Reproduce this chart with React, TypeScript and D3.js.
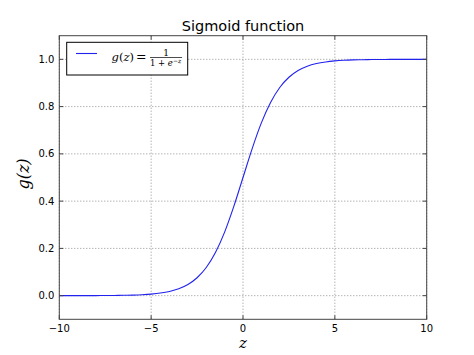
import React from "react";
import * as d3 from "d3";

// Values of g(z)
const zValues = [
  -10, -9.5, -9, -8.5, -8, -7.5, -7, -6.5, -6, -5.5, -5, -4.5, -4, -3.5, -3, -2.5, -2, -1.5, -1, -0.5,
  0, 0.5, 1, 1.5, 2, 2.5, 3, 3.5, 4, 4.5, 5, 5.5, 6, 6.5, 7, 7.5, 8, 8.5, 9, 9.5, 10,
];
const gValues = [
  0.0000454, 0.0000749, 0.000123, 0.000203, 0.000335, 0.000553, 0.000911, 0.001501, 0.002473, 0.00407,
  0.006693, 0.010987, 0.017986, 0.029312, 0.047426, 0.075858, 0.119203, 0.182426, 0.268941, 0.377541,
  0.5, 0.622459, 0.731059, 0.817574, 0.880797, 0.924142, 0.952574, 0.970688, 0.982014, 0.989013,
  0.993307, 0.99593, 0.997527, 0.998499, 0.999089, 0.999447, 0.999665, 0.999797, 0.999877, 0.999925,
  0.999955,
];
const xTicks = [-10, -5, 0, 5, 10];
const yTicks = [0.0, 0.2, 0.4, 0.6, 0.8, 1.0];
const titleText = "Sigmoid function";

export default function App() {
  const W = 474, H = 355;
  const L = 59.3, R = 426.7, T = 35.7, B = 319.3;
  const x = d3.scaleLinear().domain([-10, 10]).range([L, R]);
  const y = d3.scaleLinear().domain([-0.1, 1.1]).range([B, T]);
  const pts = zValues.map((z, i) => [z, gValues[i]] as [number, number]);
  const line = d3
    .line<[number, number]>()
    .x((d) => x(d[0]))
    .y((d) => y(d[1]))
    .curve(d3.curveMonotoneX);
  const tickFont = "DejaVu Sans, sans-serif";
  const serif = "DejaVu Serif, serif";
  const gridColor = "#777";
  const frame = "#444";
  return (
    <svg
      width={W}
      height={H}
      style={{ position: "absolute", left: 0, top: 0, background: "#fff" }}
    >
      {/* grid */}
      {xTicks.map((t) => (
        <line
          key={"gx" + t}
          x1={x(t)}
          x2={x(t)}
          y1={T}
          y2={B}
          stroke={gridColor}
          strokeWidth={0.8}
          strokeDasharray="1,2"
        />
      ))}
      {yTicks.map((t) => (
        <line
          key={"gy" + t}
          x1={L}
          x2={R}
          y1={y(t)}
          y2={y(t)}
          stroke={gridColor}
          strokeWidth={0.8}
          strokeDasharray="1,2"
        />
      ))}
      {/* curve */}
      <path d={line(pts) || ""} fill="none" stroke="#2222ee" strokeWidth={1.1} />
      {/* frame */}
      <rect x={L} y={T} width={R - L} height={B - T} fill="none" stroke={frame} strokeWidth={1} />
      {/* inward ticks */}
      {xTicks.map((t) => (
        <g key={"tx" + t}>
          <line x1={x(t)} x2={x(t)} y1={B} y2={B - 4} stroke={frame} />
          <line x1={x(t)} x2={x(t)} y1={T} y2={T + 4} stroke={frame} />
          <text
            x={x(t)}
            y={B + 12.5}
            textAnchor="middle"
            fontFamily={tickFont}
            fontSize={10}
            fill="#000"
          >
            {t < 0 ? "\u2212" + Math.abs(t) : String(t)}
          </text>
        </g>
      ))}
      {yTicks.map((t) => (
        <g key={"ty" + t}>
          <line x1={L} x2={L + 4} y1={y(t)} y2={y(t)} stroke={frame} />
          <line x1={R} x2={R - 4} y1={y(t)} y2={y(t)} stroke={frame} />
          <text
            x={L - 5}
            y={y(t) + 3.5}
            textAnchor="end"
            fontFamily={tickFont}
            fontSize={10}
            fill="#000"
          >
            {t.toFixed(1)}
          </text>
        </g>
      ))}
      {/* title */}
      <text x={(L + R) / 2} y={31} textAnchor="middle" fontFamily={tickFont} fontSize={14.5} fill="#000">
        {titleText}
      </text>
      {/* axis labels */}
      <text
        x={(L + R) / 2}
        y={348}
        textAnchor="middle"
        fontFamily={serif}
        fontStyle="italic"
        fontSize={15}
        fill="#000"
      >
        z
      </text>
      <text
        transform={`translate(29,174) rotate(-90)`}
        textAnchor="middle"
        fontFamily={serif}
        fontStyle="italic"
        fontSize={16}
        fill="#000"
      >
        g(z)
      </text>
      {/* legend */}
      <rect x={66.7} y={42.3} width={121} height={32.7} fill="#fff" stroke="#000" strokeWidth={1} />
      <line x1={76} x2={97} y1={53.5} y2={53.5} stroke="#2222ee" strokeWidth={1.1} />
      <text x={111.5} y={60.5} fontFamily={serif} fontSize={11.5} fill="#000">
        <tspan fontStyle="italic">g</tspan>
        <tspan>(</tspan>
        <tspan fontStyle="italic">z</tspan>
        <tspan>)</tspan>
      </text>
      <text x={136} y={60.5} fontFamily={serif} fontSize={12.5} fill="#000">
        =
      </text>
      <text x={166} y={55.5} textAnchor="middle" fontFamily={serif} fontSize={9} fill="#000">
        1
      </text>
      <line x1={150} x2={182} y1={57.5} y2={57.5} stroke="#000" strokeWidth={0.7} />
      <text x={165.5} y={66} textAnchor="middle" fontFamily={serif} fontSize={8.5} fill="#000">
        <tspan>1 + </tspan>
        <tspan fontStyle="italic">e</tspan>
        <tspan dy={-3} fontSize={6}>−</tspan>
        <tspan fontSize={6} fontStyle="italic">z</tspan>
      </text>
    </svg>
  );
}
